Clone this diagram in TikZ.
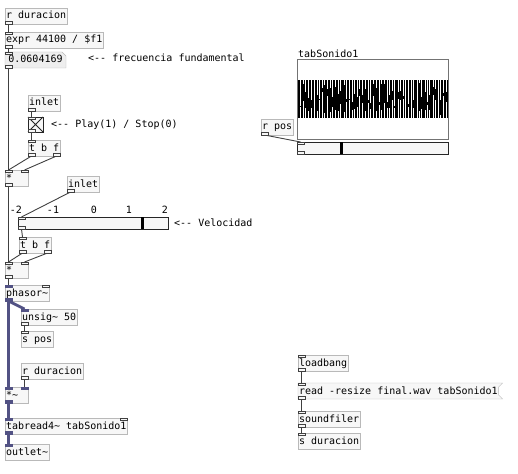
\documentclass[tikz,border=0pt]{standalone}
\usepackage{fontspec}
\setmonofont{DejaVu Sans Mono}
\usetikzlibrary{calc,backgrounds}
\definecolor{sigcol}{RGB}{82,82,132}
\definecolor{boxline}{RGB}{185,185,185}
\definecolor{boxfill}{RGB}{247,247,247}
\tikzset{
  pdfont/.style={font=\ttfamily\fontsize{10}{12}\selectfont},
  pdobj/.style={pdfont, draw=boxline, fill=boxfill, anchor=north west, outer sep=0pt,
    inner xsep=1pt, inner ysep=3pt, text height=8pt, text depth=2pt},
  pdsmall/.style={pdobj, text width=21pt, align=left},
  pdbare/.style={pdobj, draw=none, fill=none},
  pdtxt/.style={pdfont, anchor=west, inner sep=0pt, text height=8pt, text depth=2pt},
  gui/.style={draw=black!85, fill=boxfill, anchor=north west, outer sep=0pt, inner sep=0pt, line width=0.9pt},
  ctl/.style={draw=black!75, line width=0.9pt},
  sig/.style={draw=sigcol, line width=2.8pt},
  ctlio/.style={draw=black!75, fill=boxfill, line width=0.7pt},
  sigio/.style={draw=sigcol, fill=sigcol, line width=0.7pt},
}
% iolets: top/bottom, left/right
\newcommand{\inL}[2][ctlio]{\filldraw[#1] (#2.north west) rectangle ++(7,2.5);}
\newcommand{\inR}[2][ctlio]{\filldraw[#1] (#2.north east) rectangle ++(-7,2.5);}
\newcommand{\outL}[2][ctlio]{\filldraw[#1] (#2.south west) rectangle ++(7,-2.5);}
\newcommand{\outR}[2][ctlio]{\filldraw[#1] (#2.south east) rectangle ++(-7,-2.5);}
\begin{document}
\begin{tikzpicture}[x=1pt,y=-1pt]
\useasboundingbox (0,0) rectangle (518,473);
% left column
\node[pdobj] (rdur) at (5,8) {r duracion};
\node[pdobj] (expr) at (5,32) {expr 44100 / \$f1};
\node[pdbare, minimum width=61pt] (num) at (5,52) {0.0604169};
\node[pdtxt] (cfreq) at (88,59) {<-{}- frecuencia fundamental};
\node[pdobj] (inA) at (28,95) {inlet};
\node[gui, minimum width=15pt, minimum height=15pt] (tgl) at (28,117) {};
\draw[black!85, line width=0.8pt] (tgl.north west) -- (tgl.south east) (tgl.north east) -- (tgl.south west);
\node[pdtxt] (cplay) at (51,125) {<-{}- Play(1) / Stop(0)};
\node[pdobj] (tbfA) at (28,140) {t b f};
\node[pdsmall] (mulA) at (5,170) {*};
\node[pdobj] (inB) at (67,176) {inlet};
\foreach \lx/\lt in {16/-2,53/-1,94/0,129/1,165/2}
  \node[pdfont, inner sep=0pt] at (\lx,210) {\lt};
\node[gui, minimum width=150pt, minimum height=12pt] (velo) at (18,217) {};
\draw[black, line width=3pt] (142,217) -- (142,229);
\node[pdtxt] (cvel) at (174,223) {<-{}- Velocidad};
\node[pdobj] (tbfB) at (19,237) {t b f};
\node[pdsmall] (mulB) at (5,262) {*};
\node[pdobj] (phas) at (5,285) {phasor\textasciitilde};
\node[pdobj] (unsig) at (21,309) {unsig\textasciitilde{} 50};
\node[pdobj] (spos) at (21,331) {s pos};
\node[pdobj] (rdurB) at (21,363) {r duracion};
\node[pdsmall] (mulsig) at (5,387) {*\textasciitilde};
\node[pdobj] (tabrd) at (5,418) {tabread4\textasciitilde{} tabSonido1};
\node[pdobj] (outs) at (5,444) {outlet\textasciitilde};
% array and position slider
\node[anchor=north west, draw=black!55, line width=0.9pt, fill=white, outer sep=0pt,
  minimum width=151pt, minimum height=80pt] (tab) at (297,59) {};
\node[pdfont, anchor=south west, inner sep=1pt] (tabname) at (tab.north west) {tabSonido1};
\fill[black] (298,80) rectangle (448,118);
\pgfmathsetseed{11}
\foreach \i in {0,...,54}{
  \pgfmathsetmacro{\wx}{300+\i*2.7+rnd}
  \pgfmathsetmacro{\wa}{3+rnd*24}
  \pgfmathsetmacro{\wb}{3+rnd*24}
  \draw[white, line width=0.8pt] (\wx,80) -- ++(0,\wa);
  \draw[white, line width=0.8pt] (\wx,118) -- ++(0,-\wb);
}
\node[pdobj] (rpos) at (261,119) {r pos};
\node[gui, minimum width=151pt, minimum height=12pt] (posl) at (297,142) {};
\draw[black, line width=3pt] (341,142) -- (341,154);
% file loading
\node[pdobj] (lbang) at (298,355) {loadbang};
\node[pdbare] (readmsg) at (298,383) {read -resize final.wav tabSonido1};
\node[pdobj] (sfiler) at (298,411) {soundfiler};
\node[pdobj] (sdur) at (298,433) {s duracion};
\begin{scope}[on background layer]
  \filldraw[draw=boxline, fill=gray!13] (num.north west) -- ($(num.north east)+(-4,0)$)
    -- ($(num.north east)+(0,4)$) -- (num.south east) -- (num.south west) -- cycle;
  \filldraw[draw=boxline, fill=boxfill] (readmsg.north west) -- ($(readmsg.north east)+(4,0)$)
    -- ($(readmsg.north east)+(0,4)$) -- ($(readmsg.south east)+(0,-4)$)
    -- ($(readmsg.south east)+(4,0)$) -- (readmsg.south west) -- cycle;
\end{scope}
% control connections
\draw[ctl] ([xshift=3.5pt]rdur.south west) -- ([xshift=3.5pt]expr.north west);
\draw[ctl] ([xshift=3.5pt]expr.south west) -- ([xshift=3.5pt]num.north west);
\draw[ctl] ([xshift=3.5pt]num.south west) -- ([xshift=3.5pt]mulA.north west);
\draw[ctl] ([xshift=3.5pt]inA.south west) -- ([xshift=3.5pt]tgl.north west);
\draw[ctl] ([xshift=3.5pt]tgl.south west) -- ([xshift=3.5pt]tbfA.north west);
\draw[ctl] ([xshift=3.5pt]tbfA.south west) -- ([xshift=3.5pt]mulA.north west);
\draw[ctl] ([xshift=-3.5pt]tbfA.south east) -- ([xshift=-3.5pt]mulA.north east);
\draw[ctl] ([xshift=3.5pt]mulA.south west) -- ([xshift=3.5pt]mulB.north west);
\draw[ctl] ([xshift=3.5pt]inB.south west) -- ([xshift=3.5pt]velo.north west);
\draw[ctl] ([xshift=3.5pt]velo.south west) -- ([xshift=3.5pt]tbfB.north west);
\draw[ctl] ([xshift=3.5pt]tbfB.south west) -- ([xshift=3.5pt]mulB.north west);
\draw[ctl] ([xshift=-3.5pt]tbfB.south east) -- ([xshift=-3.5pt]mulB.north east);
\draw[ctl] ([xshift=3.5pt]mulB.south west) -- ([xshift=3.5pt]phas.north west);
\draw[ctl] ([xshift=3.5pt]unsig.south west) -- ([xshift=3.5pt]spos.north west);
\draw[ctl] ([xshift=3.5pt]rdurB.south west) -- ([xshift=-3.5pt]mulsig.north east);
\draw[ctl] ([xshift=3.5pt]rpos.south west) -- ([xshift=3.5pt]posl.north west);
\draw[ctl] ([xshift=3.5pt]lbang.south west) -- ([xshift=3.5pt]readmsg.north west);
\draw[ctl] ([xshift=3.5pt]readmsg.south west) -- ([xshift=3.5pt]sfiler.north west);
\draw[ctl] ([xshift=3.5pt]sfiler.south west) -- ([xshift=3.5pt]sdur.north west);
% signal connections
\draw[sig] ([xshift=3.5pt]phas.south west) -- ([xshift=3.5pt]mulsig.north west);
\draw[sig] ([xshift=3.5pt]phas.south west) -- ([xshift=3.5pt]unsig.north west);
\draw[sig] ([xshift=3.5pt]mulsig.south west) -- ([xshift=3.5pt]tabrd.north west);
\draw[sig] ([xshift=3.5pt]tabrd.south west) -- ([xshift=3.5pt]outs.north west);
% iolets
\outL{rdur} \inL{expr} \outL{expr} \inL{num} \outL{num}
\outL{inA} \inL{tgl} \outL{tgl} \inL{tbfA} \outL{tbfA} \outR{tbfA}
\inL{mulA} \inR{mulA} \outL{mulA} \outL{inB} \inL{velo} \outL{velo}
\inL{tbfB} \outL{tbfB} \outR{tbfB} \inL{mulB} \inR{mulB} \outL{mulB}
\inL[sigio]{phas} \inR{phas} \outL[sigio]{phas}
\inL[sigio]{unsig} \outL{unsig} \inL{spos} \outL{rdurB}
\inL[sigio]{mulsig} \inR[sigio]{mulsig} \outL[sigio]{mulsig}
\inL[sigio]{tabrd} \inR{tabrd} \outL[sigio]{tabrd} \inL[sigio]{outs}
\outL{rpos} \inL{posl} \outL{posl}
\inL{lbang} \outL{lbang} \inL{readmsg} \outL{readmsg}
\inL{sfiler} \outL{sfiler} \inL{sdur}
\end{tikzpicture}
\end{document}
